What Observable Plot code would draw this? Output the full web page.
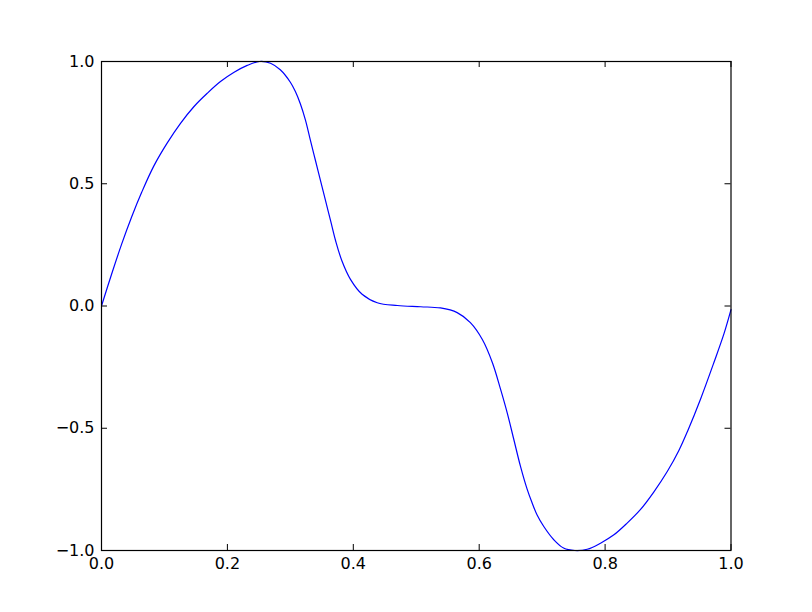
<!DOCTYPE html>
<html>
<head>
<meta charset="utf-8">
<script src="https://cdn.jsdelivr.net/npm/d3@7"></script>
<script src="https://cdn.jsdelivr.net/npm/@observablehq/plot@0.6"></script>
<style>
  html, body { margin: 0; padding: 0; background: white; }
</style>
</head>
<body>
<div id="chart"></div>
<script>
const xValues = [0, 0.016, 0.032, 0.048, 0.064, 0.083, 0.104, 0.1255, 0.147, 0.168, 0.189, 0.210, 0.2315, 0.251,
  0.2685, 0.284, 0.300, 0.308, 0.316, 0.324, 0.332, 0.340, 0.348, 0.356, 0.364, 0.372, 0.382, 0.3955, 0.414, 0.438, 0.470,
  0.507, 0.5385, 0.565, 0.586, 0.605, 0.621, 0.634, 0.6445, 0.655, 0.6656, 0.676, 0.684, 0.692, 0.7026, 0.7185, 0.734, 0.752,
  0.7716, 0.7927, 0.814, 0.835, 0.856, 0.877, 0.899, 0.917, 0.931, 0.952, 0.973, 0.989, 1.0];
const yValues = [0, 0.130, 0.253, 0.365, 0.466, 0.572, 0.665, 0.747, 0.816, 0.870, 0.918, 0.955, 0.984, 1.0,
  0.993, 0.966, 0.915, 0.877, 0.826, 0.760, 0.676, 0.594, 0.512, 0.430, 0.348, 0.266, 0.184, 0.109, 0.048, 0.0135, 0.002,
  -0.003, -0.008, -0.027, -0.068, -0.137, -0.232, -0.341, -0.437, -0.546, -0.656, -0.748, -0.805, -0.855, -0.902, -0.956, -0.990, -1.0,
  -0.995, -0.970, -0.936, -0.888, -0.833, -0.762, -0.676, -0.592, -0.512, -0.378, -0.230, -0.112, -0.015];
const xTicks = [0, 0.2, 0.4, 0.6, 0.8, 1.0];
const yTicks = [-1, -0.5, 0, 0.5, 1];

const points = xValues.map((x, i) => ({x, y: yValues[i]}));

const W = 812, H = 612;
const mL = 101, mR = 81.5, mT = 61, mB = 62;
const frameW = W - mL - mR, frameH = H - mT - mB;
const tick = 6;
const fmt = d3.format(".1f");

const chart = Plot.plot({
  width: W,
  height: H,
  marginLeft: mL,
  marginRight: mR,
  marginTop: mT,
  marginBottom: mB,
  style: {fontFamily: "DejaVu Sans", fontSize: "16px", background: "white", color: "black"},
  x: {domain: [0, 1], ticks: xTicks, tickFormat: fmt, label: null},
  y: {domain: [-1, 1], ticks: yTicks, tickFormat: fmt, label: null},
  marks: [
    Plot.axisX(xTicks, {tickSize: 0, tickPadding: 7, tickFormat: fmt, fontSize: 16, fill: "black"}),
    Plot.axisY(yTicks, {tickSize: 0, tickPadding: 7, tickFormat: fmt, fontSize: 16, fill: "black"}),
    Plot.tickX(xTicks, {x: d => d, insetTop: frameH - tick, stroke: "black", strokeWidth: 1}),
    Plot.tickX(xTicks, {x: d => d, insetBottom: frameH - tick, stroke: "black", strokeWidth: 1}),
    Plot.tickY(yTicks, {y: d => d, insetRight: frameW - tick, stroke: "black", strokeWidth: 1}),
    Plot.tickY(yTicks, {y: d => d, insetLeft: frameW - tick, stroke: "black", strokeWidth: 1}),
    Plot.line(points, {x: "x", y: "y", stroke: "#0000ff", strokeWidth: 1.2, curve: "catmull-rom"}),
    Plot.frame({stroke: "black", strokeWidth: 1.2})
  ]
});
document.getElementById("chart").appendChild(chart);
</script>
</body>
</html>
